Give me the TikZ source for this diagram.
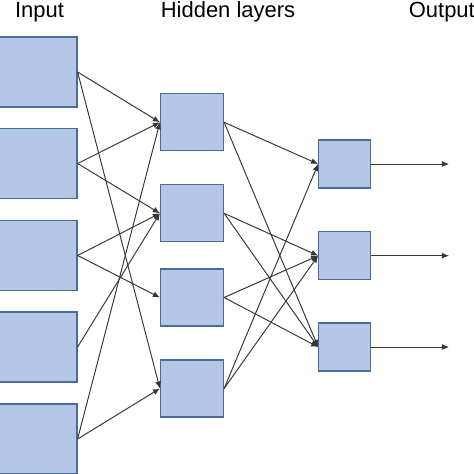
\documentclass[tikz,border=0pt]{standalone}
\usepackage{fontspec}
\setmainfont{Liberation Sans}
\usetikzlibrary{arrows.meta}
\definecolor{boxfill}{RGB}{180,199,231}
\definecolor{boxline}{RGB}{74,108,155}
\definecolor{wire}{RGB}{55,55,55}
\tikzset{
	inbox/.style={draw=boxline, fill=boxfill, line width=0.7pt, inner sep=0pt, minimum width=2.14cm, minimum height=1.4cm},
	hidbox/.style={draw=boxline, fill=boxfill, line width=0.7pt, inner sep=0pt, minimum width=1.26cm, minimum height=1.14cm},
	outbox/.style={draw=boxline, fill=boxfill, line width=0.7pt, inner sep=0pt, minimum width=1.03cm, minimum height=0.96cm},
	wirearrow/.style={draw=wire, line width=0.55pt, -{Latex[length=4pt,width=3.4pt]}},
	caption/.style={font=\fontsize{12.5}{14}\selectfont, inner sep=0pt}
}

\begin{document}
\begin{tikzpicture}[x=0.02cm, y=-0.02cm]
		%%%%% START %%%%%
		
		\clip (0, 0) rectangle (474, 474);
		\fill[white] (0, 0) rectangle (474, 474);
		
		\node[caption, anchor=base] (tin) at (39.5, 17) {Input};
		\node[caption, anchor=base] (thid) at (228, 17) {Hidden layers};
		\node[caption, anchor=base west] (tout) at (408.5, 17) {Output};
		
		\node[inbox] (in1) at (23.5, 72) {};
		\node[inbox] (in2) at (23.5, 163.5) {};
		\node[inbox] (in3) at (23.5, 255.5) {};
		\node[inbox] (in4) at (23.5, 347) {};
		\node[inbox] (in5) at (23.5, 439) {};
		
		\node[hidbox] (h1) at (192, 122.3) {};
		\node[hidbox] (h2) at (192, 213.3) {};
		\node[hidbox] (h3) at (192, 297.5) {};
		\node[hidbox] (h4) at (192, 388.5) {};
		
		\node[outbox] (o1) at (344.5, 164) {};
		\node[outbox] (o2) at (344.5, 255.7) {};
		\node[outbox] (o3) at (344.5, 347) {};
		
		\coordinate (e1) at (449, 164);
		\coordinate (e2) at (449, 255.7);
		\coordinate (e3) at (449, 347);
		
		\draw[wirearrow] (in1.east) -- (h1.west);
		\draw[wirearrow] (in1.east) -- (h4.west);
		\draw[wirearrow] (in2.east) -- (h1.west);
		\draw[wirearrow] (in2.east) -- (h2.west);
		\draw[wirearrow] (in3.east) -- (h2.west);
		\draw[wirearrow] (in3.east) -- (h3.west);
		\draw[wirearrow] (in4.east) -- (h2.west);
		\draw[wirearrow] (in5.east) -- (h1.west);
		\draw[wirearrow] (in5.east) -- (h4.west);
		
		\draw[wirearrow] (h1.east) -- (o1.west);
		\draw[wirearrow] (h1.east) -- (o3.west);
		\draw[wirearrow] (h2.east) -- (o2.west);
		\draw[wirearrow] (h2.east) -- (o3.west);
		\draw[wirearrow] (h3.east) -- (o2.west);
		\draw[wirearrow] (h3.east) -- (o3.west);
		\draw[wirearrow] (h4.east) -- (o1.west);
		\draw[wirearrow] (h4.east) -- (o2.west);
		
		\draw[wirearrow] (o1.east) -- (e1);
		\draw[wirearrow] (o2.east) -- (e2);
		\draw[wirearrow] (o3.east) -- (e3);
		
		%%%%% END %%%%%
	\end{tikzpicture}
\end{document}
